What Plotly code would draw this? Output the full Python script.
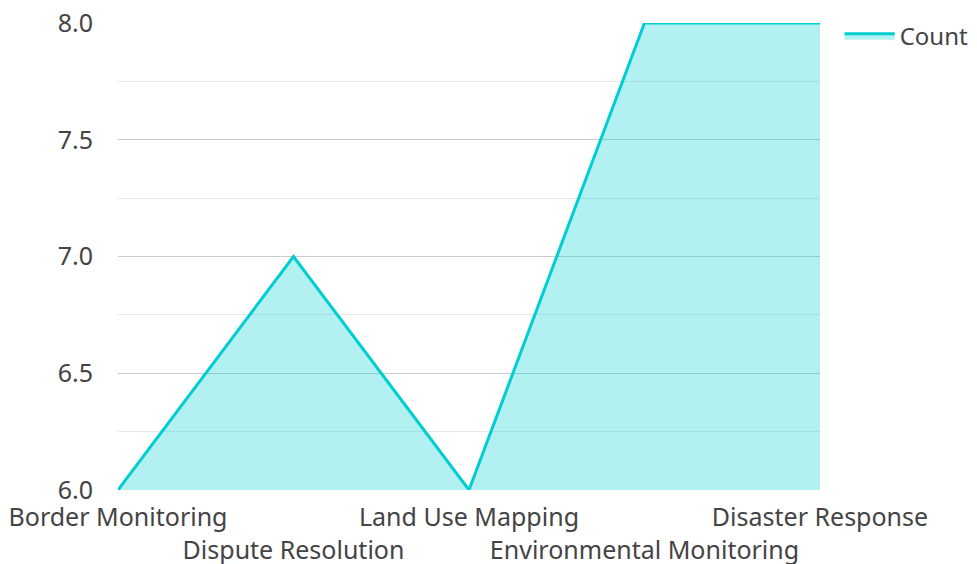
import plotly.graph_objects as go

categories = ["Border Monitoring", "Dispute Resolution", "Land Use Mapping",
              "Environmental Monitoring", "Disaster Response"]
counts = [6, 7, 6, 8, 8]

# alternate tick labels onto two rows so the long names don't collide
tick_text = [c if i % 2 == 0 else "<br>" + c for i, c in enumerate(categories)]

fig = go.Figure(
    go.Scatter(
        x=categories,
        y=counts,
        name="Count",
        mode="lines",
        line=dict(color="#00CED1", width=3),
        fill="tozeroy",
        fillcolor="rgba(0,206,209,0.3)",
        showlegend=True,
    )
)

fig.update_layout(
    width=977,
    height=564,
    margin=dict(l=118, r=157, t=23, b=74, autoexpand=False),
    paper_bgcolor="white",
    plot_bgcolor="white",
    font=dict(family="Noto Sans, Open Sans, sans-serif", size=25, color="#444"),
    legend=dict(font=dict(size=24), itemwidth=50, x=1.028, xanchor="left",
                y=1.02, yanchor="top"),
)

fig.update_xaxes(
    type="category",
    range=[0, len(categories) - 1],
    tickvals=categories,
    ticktext=tick_text,
    tickangle=0,
    showgrid=False,
    showline=False,
    zeroline=False,
    ticks="",
    automargin=False,
    ticklabelstandoff=10,
)

fig.update_yaxes(
    range=[6, 8],
    dtick=0.5,
    tickformat=".1f",
    showgrid=True,
    gridcolor="#cccccc",
    gridwidth=1,
    minor=dict(dtick=0.25, showgrid=True, gridcolor="#e8e8e8", gridwidth=1),
    zeroline=False,
    showline=False,
    ticks="",
    automargin=False,
    ticklabelstandoff=24,
)

fig.write_html("out.html")
